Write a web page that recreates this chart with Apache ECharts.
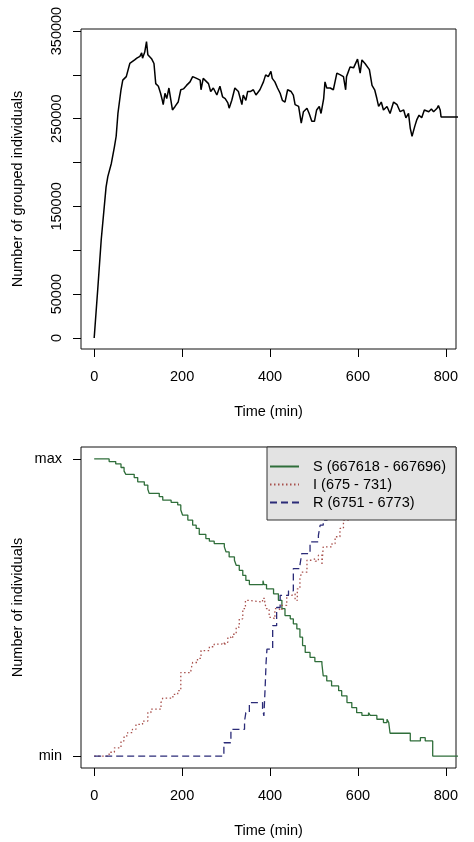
<!DOCTYPE html>
<html>
<head>
<meta charset="utf-8">
<script src="https://cdn.jsdelivr.net/npm/echarts@6/dist/echarts.min.js"></script>
<style>
html, body { margin: 0; padding: 0; background: #fff; }
#main { width: 474px; height: 842px; }
</style>
</head>
<body>
<div id="main"></div>
<script>
// top panel: grouped individuals over time
var timeTop = [0, 8, 16, 27, 31, 39, 46, 50, 54, 61, 65, 73, 81, 92, 97, 104, 108, 110, 115, 119,
    122, 131, 136, 140, 146, 151, 155, 157, 161, 165, 170, 174, 178, 184, 191, 197, 203, 210, 218, 224,
    233, 241, 243, 248, 260, 265, 271, 279, 286, 292, 298, 304, 307, 313, 320, 328, 336, 339, 345, 349,
    355, 362, 368, 371, 377, 385, 390, 396, 402, 405, 411, 417, 423, 428, 434, 440, 448, 453, 457, 465,
    471, 476, 484, 489, 495, 501, 506, 512, 516, 522, 525, 529, 537, 544, 552, 560, 567, 572, 574, 582,
    590, 599, 605, 609, 616, 626, 632, 638, 643, 647, 653, 658, 666, 673, 681, 689, 696, 704, 709, 715,
    719, 723, 729, 734, 739, 745, 751, 761, 767, 772, 780, 783, 787, 789, 830];
var groupedValues = [0, 55000, 112000, 172000, 184000, 199000, 218000, 230000, 256000, 283000, 294000, 298000, 313000, 317000, 319000, 321000, 325000, 319000, 326000, 338000,
    323000, 318000, 313000, 290000, 287000, 279000, 271000, 266000, 279000, 273000, 285000, 284000, 260000, 264000, 269000, 283000, 284000, 288000, 292000, 298000,
    296000, 294000, 283000, 296000, 290000, 281000, 285000, 277000, 287000, 275000, 273000, 268000, 262000, 271000, 285000, 281000, 266000, 277000, 271000, 281000,
    281000, 283000, 277000, 275000, 283000, 292000, 300000, 298000, 304000, 296000, 292000, 285000, 279000, 271000, 269000, 283000, 281000, 277000, 266000, 264000,
    245000, 258000, 262000, 256000, 247000, 247000, 260000, 264000, 256000, 273000, 292000, 285000, 285000, 283000, 302000, 300000, 298000, 283000, 298000, 309000,
    308000, 318000, 302000, 317000, 313000, 306000, 288000, 283000, 273000, 264000, 269000, 260000, 264000, 256000, 269000, 266000, 258000, 260000, 251000, 256000,
    239000, 230000, 241000, 249000, 254000, 251000, 260000, 258000, 261000, 258000, 262000, 265000, 260000, 252000, 252000];

// bottom panel: S, I, R scaled between min and max (step changes)
var timeS = [0, 34, 49, 61, 68, 72, 91, 99, 114, 122, 125, 148, 156, 175, 190, 197, 201, 213, 224, 232,
    239, 254, 262, 273, 296, 300, 307, 319, 323, 330, 338, 345, 353, 384, 386, 392, 408, 419, 427, 434,
    446, 453, 461, 468, 474, 480, 491, 502, 518, 521, 529, 540, 556, 563, 575, 586, 597, 609, 624, 628,
    643, 658, 666, 670, 673, 719, 742, 753, 770, 832];
var valS = [1.0, 0.991, 0.983, 0.971, 0.959, 0.948, 0.937, 0.923, 0.912, 0.898, 0.884, 0.873, 0.861, 0.854, 0.845, 0.828, 0.811, 0.794, 0.777, 0.766,
    0.746, 0.732, 0.723, 0.715, 0.704, 0.687, 0.670, 0.659, 0.642, 0.625, 0.608, 0.591, 0.577, 0.590, 0.577, 0.563, 0.546, 0.524, 0.496, 0.473,
    0.462, 0.445, 0.428, 0.400, 0.372, 0.349, 0.332, 0.318, 0.310, 0.270, 0.253, 0.236, 0.220, 0.203, 0.180, 0.163, 0.146, 0.137, 0.146, 0.137,
    0.124, 0.113, 0.124, 0.113, 0.077, 0.051, 0.062, 0.051, 0.0, 0.0];

var timeI = [0, 34, 46, 61, 68, 76, 87, 95, 110, 122, 129, 152, 156, 179, 190, 197, 220, 224, 235, 243,
    262, 273, 290, 296, 299, 304, 310, 315, 323, 330, 338, 344, 353, 383, 388, 391, 398, 405, 411, 419,
    427, 438, 449, 457, 462, 468, 472, 484, 495, 503, 510, 518, 521, 541, 548, 559, 567, 580, 600, 620,
    640, 660];
var valI = [0.0, 0.013, 0.028, 0.051, 0.068, 0.079, 0.090, 0.107, 0.118, 0.146, 0.158, 0.180, 0.195, 0.208, 0.220, 0.281, 0.290, 0.315, 0.329, 0.355,
    0.368, 0.377, 0.383, 0.372, 0.383, 0.400, 0.395, 0.410, 0.434, 0.462, 0.496, 0.524, 0.518, 0.531, 0.518, 0.496, 0.467, 0.462, 0.496, 0.490,
    0.507, 0.541, 0.546, 0.524, 0.563, 0.597, 0.619, 0.659, 0.664, 0.656, 0.676, 0.642, 0.704, 0.715, 0.738, 0.766, 0.794, 0.830, 0.880, 0.930,
    0.970, 1.0];

var timeR = [0, 295, 311, 342, 345, 353, 383, 386, 389, 391, 393, 406, 415, 423, 442, 453, 468, 472, 491, 510,
    514, 521, 530, 540, 550, 560];
var valR = [0.0, 0.045, 0.090, 0.118, 0.146, 0.180, 0.160, 0.135, 0.236, 0.315, 0.360, 0.439, 0.500, 0.541, 0.556, 0.631, 0.642, 0.681, 0.721, 0.743,
    0.777, 0.794, 0.850, 0.920, 0.970, 1.0];

var legendNames = ['S (667618 - 667696)', 'I (675 - 731)', 'R (6751 - 6773)'];
var xTicks = [0, 200, 400, 600, 800];
var yTicksTop = [0, 50000, 100000, 150000, 200000, 250000, 300000, 350000];
var yLabelsTop = [0, 50000, 150000, 250000, 350000];
var yTicksBottom = [0, 1];
var yLabelsBottom = ['min', 'max'];

var FONT = 'Liberation Sans';
var textStyle = { color: '#000', fontSize: 14.5, fontFamily: FONT };

function pairs(xs, ys) {
    return xs.map(function (x, i) { return [x, ys[i]]; });
}

function timeAxis(gridIndex) {
    return {
        type: 'value', gridIndex: gridIndex, min: -30, max: 823,
        axisLine: { show: false, onZero: false },
        splitLine: { show: false },
        axisTick: { show: true, length: 8, customValues: xTicks, lineStyle: { color: '#000', width: 1 } },
        axisLabel: Object.assign({ customValues: xTicks, margin: 20 }, textStyle),
        name: 'Time (min)', nameLocation: 'middle', nameGap: 55,
        nameTextStyle: textStyle
    };
}

var option = {
    animation: false,
    backgroundColor: '#fff',
    grid: [
        { left: 81, top: 29, width: 375, height: 320, show: true, borderColor: '#111', borderWidth: 1 },
        { left: 81, top: 447, width: 375, height: 321, show: true, borderColor: '#111', borderWidth: 1 }
    ],
    xAxis: [timeAxis(0), timeAxis(1)],
    yAxis: [
        {
            type: 'value', gridIndex: 0, min: -12600, max: 352300,
            axisLine: { show: false, onZero: false },
            splitLine: { show: false },
            axisTick: { show: true, length: 8, customValues: yTicksTop, lineStyle: { color: '#000', width: 1 } },
            axisLabel: Object.assign({
                customValues: yLabelsTop, margin: 17, rotate: 90,
                formatter: function (v) { return String(v); }
            }, textStyle),
            name: 'Number of grouped individuals', nameLocation: 'middle', nameGap: 56,
            nameMoveOverlap: false,
            nameTextStyle: textStyle
        },
        {
            type: 'value', gridIndex: 1, min: -0.04, max: 1.04,
            axisLine: { show: false, onZero: false },
            splitLine: { show: false },
            axisTick: { show: true, length: 8, customValues: yTicksBottom, lineStyle: { color: '#000', width: 1 } },
            axisLabel: Object.assign({
                customValues: yTicksBottom, margin: 19,
                formatter: function (v) { return yLabelsBottom[yTicksBottom.indexOf(v)]; }
            }, textStyle),
            name: 'Number of individuals', nameLocation: 'middle', nameGap: 56,
            nameMoveOverlap: false,
            nameTextStyle: textStyle
        }
    ],
    legend: {
        data: legendNames,
        left: 267, top: 447,
        orient: 'vertical',
        backgroundColor: '#e3e3e3',
        borderColor: '#333', borderWidth: 1, borderRadius: 0,
        padding: [12, 10, 10, 2],
        itemWidth: 29, itemHeight: 14, itemGap: 3,
        selectedMode: false,
        itemStyle: { opacity: 0 },
        lineStyle: { opacity: 1 },
        textStyle: Object.assign({ padding: [0, 0, 0, 9] }, textStyle)
    },
    series: [
        {
            type: 'line', xAxisIndex: 0, yAxisIndex: 0,
            data: pairs(timeTop, groupedValues),
            symbol: 'none', showSymbol: false,
            lineStyle: { color: '#000', width: 1.5 }
        },
        {
            name: legendNames[0], type: 'line', xAxisIndex: 1, yAxisIndex: 1, step: 'end',
            data: pairs(timeS, valS),
            symbol: 'none', showSymbol: false,
            itemStyle: { color: '#2f6e3a' },
            lineStyle: { color: '#2f6e3a', width: 1.3 }
        },
        {
            name: legendNames[1], type: 'line', xAxisIndex: 1, yAxisIndex: 1, step: 'end',
            data: pairs(timeI, valI),
            symbol: 'none', showSymbol: false,
            itemStyle: { color: '#a8504c' },
            lineStyle: { color: '#a8504c', width: 1.3, type: [1.5, 2.5] }
        },
        {
            name: legendNames[2], type: 'line', xAxisIndex: 1, yAxisIndex: 1, step: 'end',
            data: pairs(timeR, valR),
            symbol: 'none', showSymbol: false,
            itemStyle: { color: '#2b2b78' },
            lineStyle: { color: '#2b2b78', width: 1.3, type: [7, 4] }
        }
    ]
};

echarts.init(document.getElementById('main')).setOption(option);
</script>
</body>
</html>
